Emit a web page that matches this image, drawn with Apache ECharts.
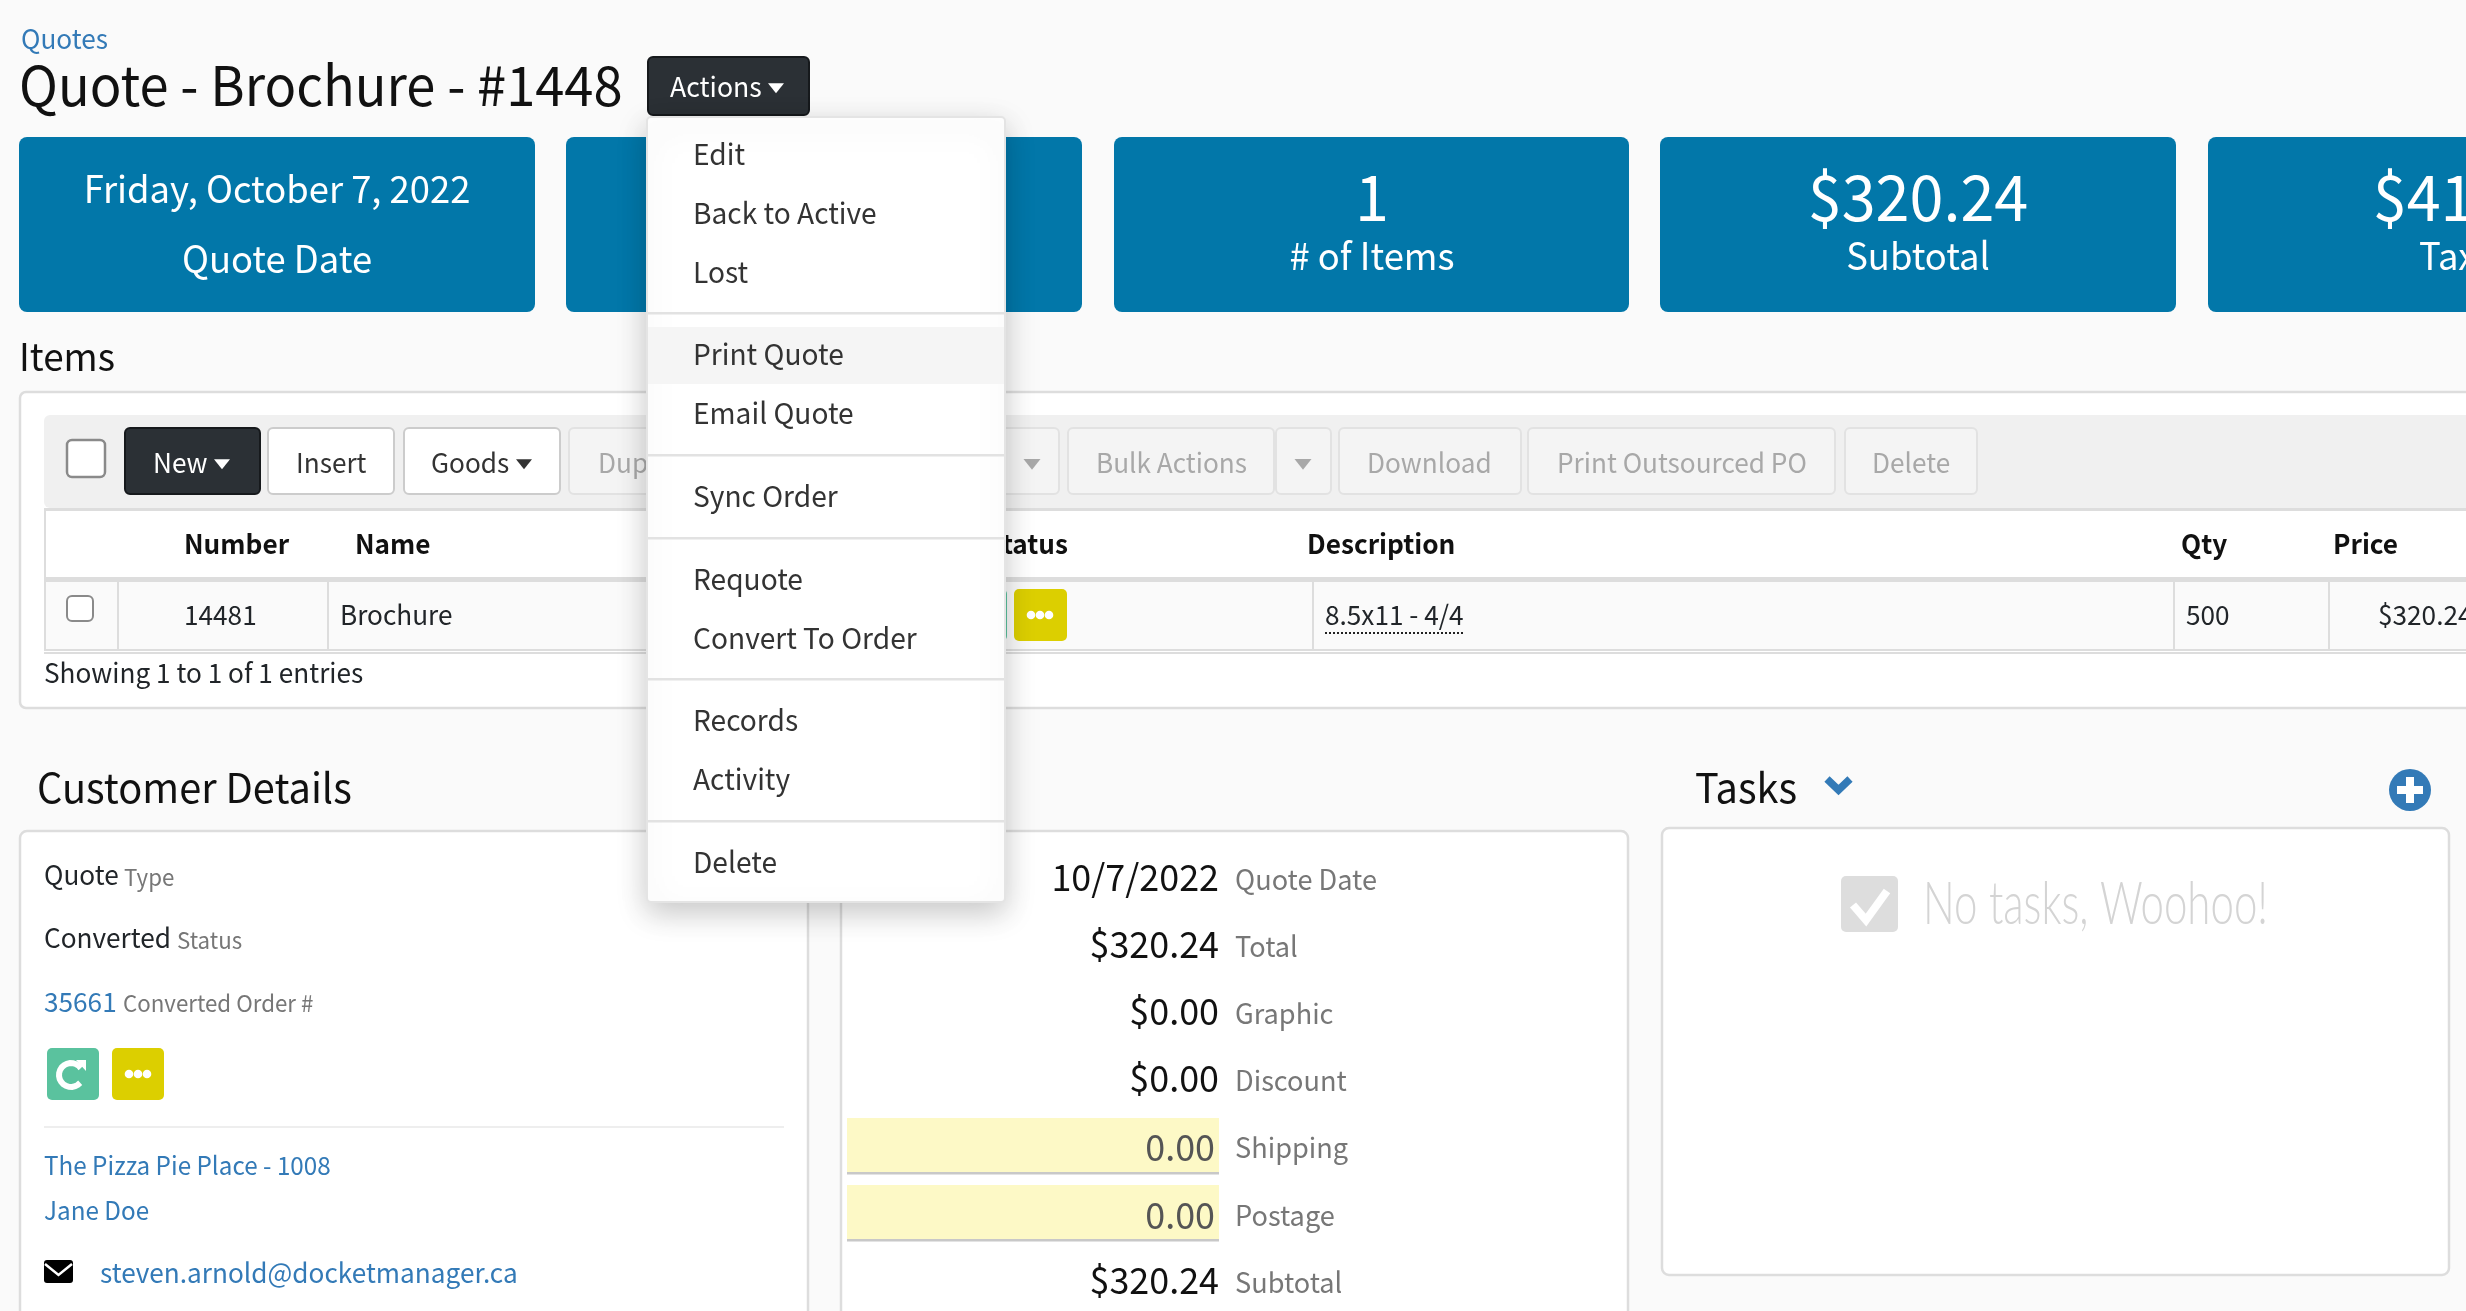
<!DOCTYPE html>
<html>
<head>
<meta charset="utf-8">
<title>Quote</title>
<script src="https://cdn.jsdelivr.net/npm/echarts@6/dist/echarts.min.js"></script>
<style>
html, body { margin: 0; padding: 0; background: #fafafa; }
#main { width: 2466px; height: 1311px; }
</style>
</head>
<body>
<div id="main"></div>
<script>
// text content
var breadcrumb = 'Quotes';
var pageTitle = 'Quote - Brochure - #1448';
var actionsLabel = 'Actions';
var cardDate = ['Friday, October 7, 2022', 'Quote Date'];
var cardValues = ['1', '$320.24', '$41.63'];
var cardLabels = ['# of Items', 'Subtotal', 'Taxes'];
var menuItems = ['Edit', 'Back to Active', 'Lost', 'Print Quote', 'Email Quote', 'Sync Order', 'Requote', 'Convert To Order', 'Records', 'Activity', 'Delete'];
var toolbarButtons = ['Insert', 'Goods', 'Dup', 'Bulk Actions', 'Download', 'Print Outsourced PO', 'Delete'];
var tableHeaders = ['Number', 'Name', 'Status', 'Description', 'Qty', 'Price'];
var tableRow = ['14481', 'Brochure', '8.5x11 - 4/4', '500', '$320.24'];
var tableFooter = 'Showing 1 to 1 of 1 entries';
var customerValues = ['Quote', 'Converted', '35661'];
var customerLabels = ['Type', 'Status', 'Converted Order #'];
var customerLinks = ['The Pizza Pie Place - 1008', 'Jane Doe', 'steven.arnold@docketmanager.ca'];
var totalLabels = ['Quote Date', 'Total', 'Graphic', 'Discount', 'Shipping', 'Postage', 'Subtotal'];
var totalValues = ['10/7/2022', '$320.24', '$0.00', '$0.00', '0.00', '0.00', '$320.24'];

var FONT = '"Noto Sans CJK SC", "Source Sans Pro", Lato, sans-serif';
var INK = '#212529', GREY = '#777777', LINK = '#337ab7', DARK = '#2b3035', OFF = '#a8a8a8';
var BLUE = '#0277a9', LINE = '#dddddd', YELLOW = '#dccf00', GREEN = '#5ac29e', INPUT = '#fdf9c6';

var els = [];
var depth = 1;

function rect(x, y, w, h, fill, o) {
    o = o || {};
    els.push({
        type: 'rect', z: depth++,
        shape: { x: x, y: y, width: w, height: h, r: o.r || 0 },
        style: {
            fill: fill, stroke: o.stroke || null, lineWidth: o.lw || 0,
            shadowBlur: o.blur || 0, shadowColor: o.shadow || 'transparent', shadowOffsetY: o.dy || 0
        }
    });
}

function txt(s, x, y, size, color, o) {
    o = o || {};
    els.push({
        type: 'text', z: depth++, x: x, y: y, scaleX: o.sx || 0.97,
        style: {
            text: s, fill: color, align: o.align || 'left', verticalAlign: 'middle',
            font: (o.weight || 'normal') + ' ' + size + 'px ' + (o.family || FONT)
        }
    });
}

function line(points, color, lw, o) {
    o = o || {};
    els.push({
        type: 'polyline', z: depth++,
        shape: { points: points },
        style: { stroke: color, lineWidth: lw, fill: null, lineDash: o.dash || null, lineCap: o.cap || 'butt', lineJoin: 'miter' }
    });
}

function poly(points, fill) {
    els.push({ type: 'polygon', z: depth++, shape: { points: points }, style: { fill: fill } });
}

function caret(cx, cy, w, color) {
    poly([[cx - w / 2, cy - w / 3.4], [cx + w / 2, cy - w / 3.4], [cx, cy + w / 3]], color);
}

function dots(cx, cy, color) {
    [-9, 0, 9].forEach(function (d) {
        els.push({ type: 'circle', z: depth++, shape: { cx: cx + d, cy: cy, r: 4.3 }, style: { fill: color } });
    });
}

function button(x, y, w, h, o) {
    rect(x + 1, y + 1, w - 2, h - 2, o.fill, { r: 5, stroke: o.stroke, lw: 2 });
}

function refreshIcon(cx, cy, r) {
    var pts = [];
    for (var a = -35; a >= -320; a -= 15) {
        pts.push([cx + r * Math.cos(a * Math.PI / 180), cy + r * Math.sin(a * Math.PI / 180)]);
    }
    line(pts, '#ffffff', 6);
    poly([[cx + 5, cy - 15], [cx + 15, cy - 15], [cx + 15, cy - 4]], '#ffffff');
}

// page head
txt(breadcrumb, 21, 39, 27, LINK);
txt(pageTitle, 19, 85, 54.5, '#111111', { sx: 0.962 });
button(647, 56, 163, 60, { fill: DARK, stroke: '#16191c' });
txt(actionsLabel, 670, 87, 27.5, '#ffffff');
caret(776, 88, 16, '#ffffff');

// summary cards
[[19, 516], [566, 516], [1114, 515], [1660, 516], [2208, 516]].forEach(function (c) {
    rect(c[0], 137, c[1], 175, BLUE, { r: 8 });
});
txt(cardDate[0], 277, 189, 37.5, '#ffffff', { align: 'center' });
txt(cardDate[1], 277, 259, 37.5, '#ffffff', { align: 'center' });
[1372, 1918, 2466].forEach(function (cx, i) {
    txt(cardValues[i], cx, 197, 63, '#ffffff', { align: 'center' });
    txt(cardLabels[i], cx, 256, 37.5, '#ffffff', { align: 'center' });
});

// items table
txt('Items', 19, 357, 38, '#111111');
rect(20, 392, 2470, 316, '#ffffff', { r: 6, stroke: LINE, lw: 2.5 });
rect(44, 415, 2430, 93, '#f0f0f0', { r: 6 });
rect(44, 508, 2430, 3, LINE);
rect(67, 440, 38, 37, '#ffffff', { r: 5, stroke: '#8a8a8a', lw: 2.5 });
button(124, 427, 137, 68, { fill: DARK, stroke: '#16191c' });
txt('New', 153, 463, 27, '#ffffff');
caret(222, 464, 16, '#ffffff');
button(267, 427, 128, 68, { fill: '#ffffff', stroke: '#cccccc' });
txt(toolbarButtons[0], 296, 463, 27, '#333333');
button(403, 427, 158, 68, { fill: '#ffffff', stroke: '#cccccc' });
txt(toolbarButtons[1], 431, 463, 27, '#333333');
caret(524, 464, 16, '#333333');
button(568, 427, 460, 68, { fill: '#f4f4f4', stroke: '#e2e2e2' });
txt(toolbarButtons[2], 598, 463, 27, OFF);
button(990, 427, 70, 68, { fill: '#f4f4f4', stroke: '#e2e2e2' });
caret(1032, 464, 17, OFF);
button(1067, 427, 208, 68, { fill: '#f4f4f4', stroke: '#e2e2e2' });
txt(toolbarButtons[3], 1096, 463, 27, OFF);
button(1275, 427, 57, 68, { fill: '#f4f4f4', stroke: '#e2e2e2' });
caret(1303, 464, 17, OFF);
button(1338, 427, 184, 68, { fill: '#f4f4f4', stroke: '#e2e2e2' });
txt(toolbarButtons[4], 1367, 463, 27, OFF);
button(1527, 427, 309, 68, { fill: '#f4f4f4', stroke: '#e2e2e2' });
txt(toolbarButtons[5], 1557, 463, 27, OFF);
button(1844, 427, 134, 68, { fill: '#f4f4f4', stroke: '#e2e2e2' });
txt(toolbarButtons[6], 1872, 463, 27, OFF);

rect(44, 511, 2430, 66, '#ffffff');
[[184, 'left'], [355, 'left'], [1068, 'right'], [1307, 'left'], [2181, 'left'], [2333, 'left']].forEach(function (c, i) {
    txt(tableHeaders[i], c[0], 544, 27, '#111111', { weight: 'bold', align: c[1] });
});
rect(44, 511, 2, 66, LINE);
rect(44, 577, 2430, 5, LINE);
rect(44, 582, 2430, 67, '#fafafa');
rect(44, 649, 2430, 2, LINE);
rect(44, 652, 2430, 2, LINE);
rect(44, 582, 2, 67, LINE);
[117, 327, 1312, 2173, 2328].forEach(function (x) { rect(x, 582, 2, 67, LINE); });
rect(67, 596, 26, 25, '#ffffff', { r: 5, stroke: '#8a8a8a', lw: 2 });
txt(tableRow[0], 184, 615, 27, INK);
txt(tableRow[1], 340, 615, 27, INK);
rect(950, 589, 57, 52, GREEN, { r: 5 });
rect(1014, 589, 53, 52, YELLOW, { r: 5 });
dots(1040, 615, '#ffffff');
txt(tableRow[2], 1325, 615, 27, INK);
line([[1325, 633], [1463, 633]], '#222222', 2, { dash: [2, 2] });
txt(tableRow[3], 2186, 615, 27, INK);
txt(tableRow[4], 2378, 615, 27, INK);
txt(tableFooter, 44, 673, 27, INK);

// section headings
txt('Customer Details', 37, 787, 41, '#111111');
txt('Tasks', 1695, 787, 41, '#111111');
line([[1827, 779], [1838.5, 790], [1850, 779]], LINK, 7.5);
els.push({ type: 'circle', z: depth++, shape: { cx: 2410, cy: 790, r: 21 }, style: { fill: LINK } });
rect(2406, 777, 8, 26, '#ffffff');
rect(2397, 786, 26, 8, '#ffffff');

// customer panel
rect(20, 831, 788, 520, '#ffffff', { r: 7, stroke: LINE, lw: 2.5 });
[875, 938, 1002].forEach(function (y, i) {
    txt(customerValues[i], 44, y, 27, i === 2 ? LINK : INK);
});
txt(customerLabels[0], 124, 877, 23, GREY);
txt(customerLabels[1], 177, 940, 23, GREY);
txt(customerLabels[2], 123, 1003, 23, GREY);
rect(47, 1048, 52, 52, GREEN, { r: 5 });
refreshIcon(71, 1075, 12);
rect(112, 1048, 52, 52, YELLOW, { r: 5 });
dots(138, 1074, '#ffffff');
rect(44, 1126, 740, 2, '#eeeeee');
txt(customerLinks[0], 44, 1165, 25, LINK);
txt(customerLinks[1], 44, 1210, 25, LINK);
rect(44, 1260, 29, 23, '#000000', { r: 3 });
line([[45, 1264], [58.5, 1275], [72, 1264]], '#ffffff', 2.5);
txt(customerLinks[2], 100, 1273, 27, LINK);

// totals panel
rect(841, 831, 787, 520, '#ffffff', { r: 7, stroke: LINE, lw: 2.5 });
rect(847, 1118, 372, 54, INPUT);
rect(847, 1172, 372, 2.5, '#c8c8c8');
rect(847, 1185, 372, 54, INPUT);
rect(847, 1239, 372, 2.5, '#c8c8c8');
[877, 944, 1011, 1078, 1147, 1215, 1280].forEach(function (y, i) {
    var isInput = i === 4 || i === 5;
    txt(totalValues[i], isInput ? 1215 : 1219, y, 37, isInput ? '#555555' : '#111111', { align: 'right' });
});
[879, 946, 1013, 1080, 1147, 1215, 1282].forEach(function (y, i) {
    txt(totalLabels[i], 1235, y, 28, GREY);
});

// tasks panel
rect(1662, 828, 787, 447, '#ffffff', { r: 7, stroke: LINE, lw: 2.5 });
rect(1841, 876, 57, 56, '#dddddd', { r: 5 });
line([[1853, 905], [1866, 920], [1887, 891]], '#ffffff', 8);
txt('No tasks, Woohoo!', 1923, 905, 60, '#d4d4d4', { family: 'Lato', weight: '300', sx: 0.70 });

// dropdown menu sits above everything else
rect(647, 117, 358, 785, '#ffffff', { r: 4, stroke: '#e4e4e4', lw: 2, blur: 30, shadow: 'rgba(0,0,0,0.22)', dy: 10 });
rect(648, 327, 356, 57, '#f5f5f5');
[312, 454, 537, 678, 820].forEach(function (y) { rect(648, y, 356, 2.5, '#e2e2e2'); });
[154, 213, 272, 354, 413, 496, 579, 638, 720, 779, 862].forEach(function (y, i) {
    txt(menuItems[i], 693, y, 29, '#333333');
});

var chart = echarts.init(document.getElementById('main'));
chart.setOption({
    animation: false,
    backgroundColor: '#fafafa',
    graphic: { elements: els }
});
</script>
</body>
</html>
